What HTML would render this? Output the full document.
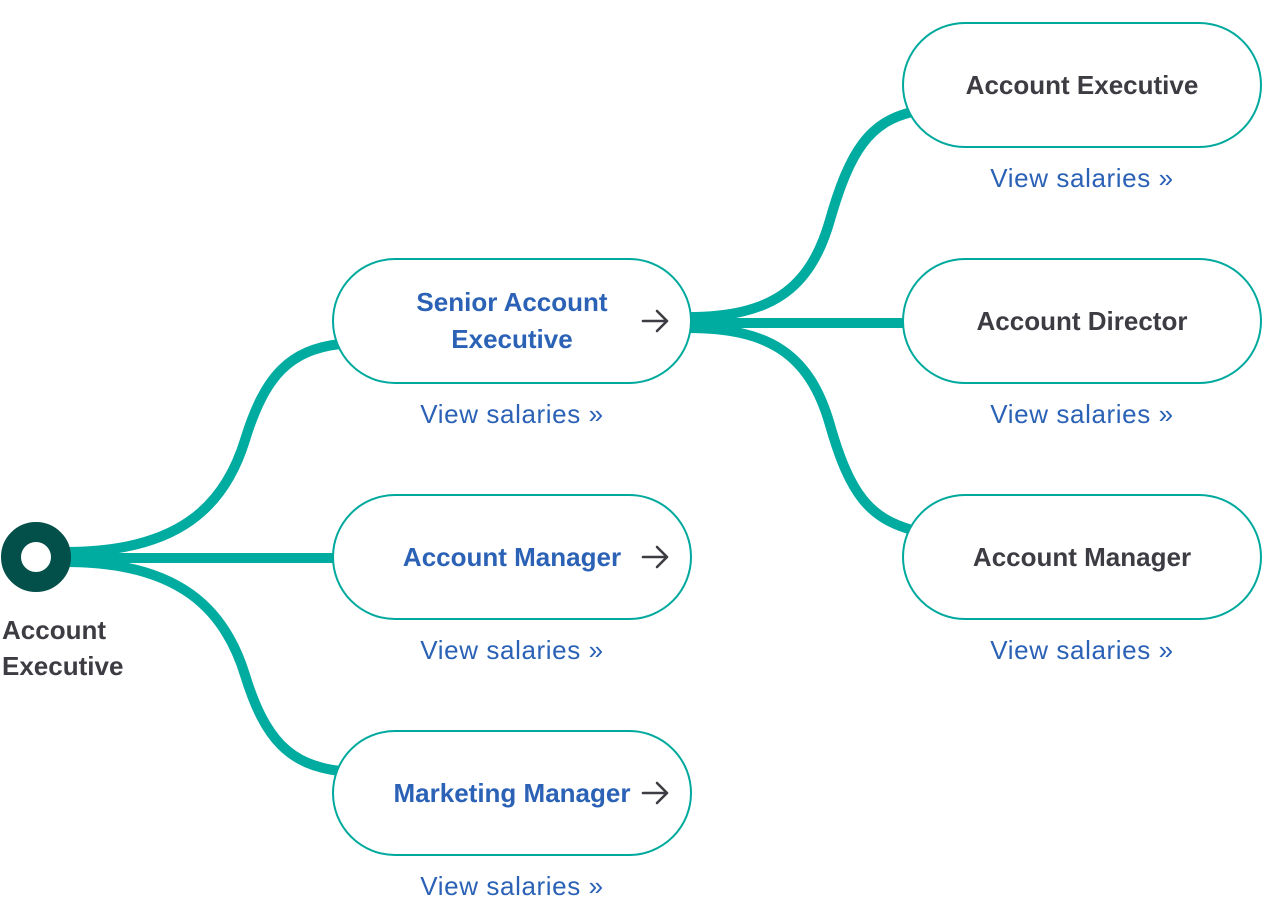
<!DOCTYPE html>
<html><head><meta charset="utf-8"><style>
body{margin:0;width:1284px;height:912px;background:#fff;position:relative;overflow:hidden;font-family:"Liberation Sans",Arial,sans-serif}
.p{position:absolute;width:356px;height:122px;border:2px solid #00a99d;border-radius:63px;box-sizing:content-box;background:#fff;display:flex;align-items:center;justify-content:center;text-align:center;font-weight:bold;font-size:26px;line-height:37px}
.b{color:#2b62b6}.d{color:#3d3c43}
.v{position:absolute;width:360px;text-align:center;font-size:26px;letter-spacing:0.6px;color:#2b62b6}
</style></head><body>
<svg width="1284" height="912" style="position:absolute;left:0;top:0">
<g fill="none" stroke="#00aba0" stroke-width="10">
<path d="M66,552 C180,552 225,505 245,440 C265,375 290,350 340,344"/>
<path d="M66,562 C180,562 225,610 245,675 C265,740 290,765 340,771"/>
<path d="M66,558 L334,558"/>
<path d="M688,317 C770,317 810,290 830,220 C850,150 870,122 912,112"/>
<path d="M688,328 C770,328 810,355 830,425 C850,495 870,518 912,530"/>
<path d="M688,323 L904,323"/>
</g>
<circle cx="36" cy="557" r="25" fill="#fff" stroke="#034f4a" stroke-width="20"/>
</svg>
<div style="position:absolute;left:2px;top:612px;font-weight:bold;font-size:26px;line-height:36px;color:#3d3c43">Account<br>Executive</div>
<div class="p b" style="left:332px;top:258px">Senior Account<br>Executive</div>
<div class="v" style="left:332px;top:399px">View salaries »</div>
<div class="p b" style="left:332px;top:494px"><span>Account Manager</span></div>
<div class="v" style="left:332px;top:635px">View salaries »</div>
<div class="p b" style="left:332px;top:730px"><span>Marketing Manager</span></div>
<div class="v" style="left:332px;top:871px">View salaries »</div>
<div class="p d" style="left:902px;top:22px">Account Executive</div>
<div class="v" style="left:902px;top:163px">View salaries »</div>
<div class="p d" style="left:902px;top:258px">Account Director</div>
<div class="v" style="left:902px;top:399px">View salaries »</div>
<div class="p d" style="left:902px;top:494px">Account Manager</div>
<div class="v" style="left:902px;top:635px">View salaries »</div>
<svg width="1284" height="912" style="position:absolute;left:0;top:0">
<g fill="none" stroke="#3d3c43" stroke-width="2.6" stroke-linecap="round" stroke-linejoin="round">
<path d="M643,321 H667 M657,311 L667,321 L657,331"/>
<path d="M643,557 H667 M657,547 L667,557 L657,567"/>
<path d="M643,793 H667 M657,783 L667,793 L657,803"/>
</g>
</svg>
</body></html>
